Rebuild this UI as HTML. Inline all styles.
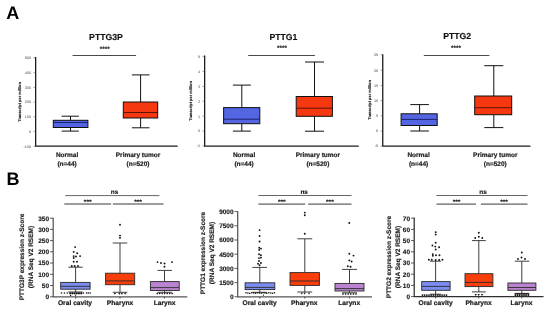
<!DOCTYPE html>
<html><head><meta charset="utf-8"><title>PTTG expression</title>
<style>
html,body{margin:0;padding:0;background:#fff;}
body{width:550px;height:313px;overflow:hidden;}
svg{display:block;font-family:"Liberation Sans",Arial,sans-serif;}
</style></head><body>
<svg width="550" height="313" viewBox="0 0 550 313" text-rendering="geometricPrecision">
<rect width="550" height="313" fill="#fff"/>
<text x="6.20" y="19.40" font-size="18" font-weight="bold" text-anchor="start" fill="#000" >A</text>
<text x="6.60" y="184.60" font-size="18" font-weight="bold" text-anchor="start" fill="#000" >B</text>
<text x="106.00" y="40.00" font-size="8.7" font-weight="bold" text-anchor="middle" fill="#111" stroke="#111" stroke-width="0.15" >PTTG3P</text>
<text x="104.70" y="50.60" font-size="6.4" font-weight="bold" text-anchor="middle" fill="#1a1a1a" stroke="#1a1a1a" stroke-width="0.1" >****</text>
<line x1="72.60" y1="55.50" x2="136.10" y2="55.50" stroke="#4a4a4a" stroke-width="1.0"/>
<path d="M35.65 57V146.15H177.7" fill="none" stroke="#1c1c1c" stroke-width="1.3"/>
<line x1="33.50" y1="57.90" x2="35.50" y2="57.90" stroke="#444" stroke-width="0.5"/>
<text x="31.10" y="59.25" font-size="3.75" font-weight="normal" text-anchor="end" fill="#4a4a4a" >500</text>
<line x1="33.50" y1="72.70" x2="35.50" y2="72.70" stroke="#444" stroke-width="0.5"/>
<text x="31.10" y="74.05" font-size="3.75" font-weight="normal" text-anchor="end" fill="#4a4a4a" >400</text>
<line x1="33.50" y1="87.40" x2="35.50" y2="87.40" stroke="#444" stroke-width="0.5"/>
<text x="31.10" y="88.75" font-size="3.75" font-weight="normal" text-anchor="end" fill="#4a4a4a" >300</text>
<line x1="33.50" y1="102.10" x2="35.50" y2="102.10" stroke="#444" stroke-width="0.5"/>
<text x="31.10" y="103.45" font-size="3.75" font-weight="normal" text-anchor="end" fill="#4a4a4a" >200</text>
<line x1="33.50" y1="116.80" x2="35.50" y2="116.80" stroke="#444" stroke-width="0.5"/>
<text x="31.10" y="118.15" font-size="3.75" font-weight="normal" text-anchor="end" fill="#4a4a4a" >100</text>
<line x1="33.50" y1="131.50" x2="35.50" y2="131.50" stroke="#444" stroke-width="0.5"/>
<text x="31.10" y="132.85" font-size="3.75" font-weight="normal" text-anchor="end" fill="#4a4a4a" >0</text>
<line x1="33.50" y1="146.30" x2="35.50" y2="146.30" stroke="#444" stroke-width="0.5"/>
<text x="31.10" y="147.65" font-size="3.75" font-weight="normal" text-anchor="end" fill="#4a4a4a" >-100</text>
<text transform="translate(20.70,102.00) rotate(-90)" font-size="3.9" font-weight="bold" text-anchor="middle" fill="#222" stroke="#222" stroke-width="0.15">Transcript per million</text>
<line x1="70.50" y1="116.20" x2="70.50" y2="120.30" stroke="#111" stroke-width="1"/>
<line x1="70.50" y1="127.50" x2="70.50" y2="131.10" stroke="#111" stroke-width="1"/>
<line x1="61.60" y1="116.20" x2="78.80" y2="116.20" stroke="#111" stroke-width="1"/>
<line x1="61.60" y1="131.10" x2="78.80" y2="131.10" stroke="#111" stroke-width="1"/>
<rect x="53.30" y="120.30" width="34.60" height="7.20" fill="#5465e2" stroke="#111" stroke-width="1"/>
<line x1="53.30" y1="122.50" x2="87.90" y2="122.50" stroke="#1a2370" stroke-width="1"/>
<line x1="140.60" y1="74.90" x2="140.60" y2="102.00" stroke="#111" stroke-width="1"/>
<line x1="140.60" y1="118.00" x2="140.60" y2="127.80" stroke="#111" stroke-width="1"/>
<line x1="131.90" y1="74.90" x2="149.50" y2="74.90" stroke="#111" stroke-width="1"/>
<line x1="131.90" y1="127.80" x2="149.50" y2="127.80" stroke="#111" stroke-width="1"/>
<rect x="123.30" y="102.00" width="34.40" height="16.00" fill="#f5380f" stroke="#111" stroke-width="1"/>
<line x1="123.30" y1="112.50" x2="157.70" y2="112.50" stroke="#5a1405" stroke-width="1"/>
<text x="67.10" y="157.30" font-size="6.5" font-weight="bold" text-anchor="middle" fill="#222" stroke="#222" stroke-width="0.2" >Normal</text>
<text x="67.10" y="165.90" font-size="6.5" font-weight="bold" text-anchor="middle" fill="#222" stroke="#222" stroke-width="0.2" >(n=44)</text>
<text x="138.00" y="157.30" font-size="6.5" font-weight="bold" text-anchor="middle" fill="#222" stroke="#222" stroke-width="0.2" >Primary tumor</text>
<text x="138.00" y="165.90" font-size="6.5" font-weight="bold" text-anchor="middle" fill="#222" stroke="#222" stroke-width="0.2" >(n=520)</text>
<text x="283.40" y="39.70" font-size="8.7" font-weight="bold" text-anchor="middle" fill="#111" stroke="#111" stroke-width="0.15" >PTTG1</text>
<text x="282.00" y="50.30" font-size="6.4" font-weight="bold" text-anchor="middle" fill="#1a1a1a" stroke="#1a1a1a" stroke-width="0.1" >****</text>
<line x1="248.20" y1="55.50" x2="314.90" y2="55.50" stroke="#4a4a4a" stroke-width="1.0"/>
<path d="M204.65 55.6V146.15H358.7" fill="none" stroke="#1c1c1c" stroke-width="1.3"/>
<line x1="202.50" y1="56.40" x2="204.50" y2="56.40" stroke="#444" stroke-width="0.5"/>
<text x="200.10" y="57.75" font-size="3.75" font-weight="normal" text-anchor="end" fill="#4a4a4a" >5</text>
<line x1="202.50" y1="71.40" x2="204.50" y2="71.40" stroke="#444" stroke-width="0.5"/>
<text x="200.10" y="72.75" font-size="3.75" font-weight="normal" text-anchor="end" fill="#4a4a4a" >4</text>
<line x1="202.50" y1="86.40" x2="204.50" y2="86.40" stroke="#444" stroke-width="0.5"/>
<text x="200.10" y="87.75" font-size="3.75" font-weight="normal" text-anchor="end" fill="#4a4a4a" >3</text>
<line x1="202.50" y1="101.30" x2="204.50" y2="101.30" stroke="#444" stroke-width="0.5"/>
<text x="200.10" y="102.65" font-size="3.75" font-weight="normal" text-anchor="end" fill="#4a4a4a" >2</text>
<line x1="202.50" y1="116.20" x2="204.50" y2="116.20" stroke="#444" stroke-width="0.5"/>
<text x="200.10" y="117.55" font-size="3.75" font-weight="normal" text-anchor="end" fill="#4a4a4a" >1</text>
<line x1="202.50" y1="131.10" x2="204.50" y2="131.10" stroke="#444" stroke-width="0.5"/>
<text x="200.10" y="132.45" font-size="3.75" font-weight="normal" text-anchor="end" fill="#4a4a4a" >0</text>
<line x1="202.50" y1="146.00" x2="204.50" y2="146.00" stroke="#444" stroke-width="0.5"/>
<text x="200.10" y="147.35" font-size="3.75" font-weight="normal" text-anchor="end" fill="#4a4a4a" >-1</text>
<text transform="translate(191.80,101.00) rotate(-90)" font-size="3.9" font-weight="bold" text-anchor="middle" fill="#222" stroke="#222" stroke-width="0.15">Transcript per million</text>
<line x1="241.80" y1="85.10" x2="241.80" y2="107.60" stroke="#111" stroke-width="1"/>
<line x1="241.80" y1="123.70" x2="241.80" y2="131.10" stroke="#111" stroke-width="1"/>
<line x1="232.90" y1="85.10" x2="250.80" y2="85.10" stroke="#111" stroke-width="1"/>
<line x1="232.90" y1="131.10" x2="250.80" y2="131.10" stroke="#111" stroke-width="1"/>
<rect x="223.60" y="107.60" width="36.20" height="16.10" fill="#5465e2" stroke="#111" stroke-width="1"/>
<line x1="223.60" y1="119.20" x2="259.80" y2="119.20" stroke="#1a2370" stroke-width="1"/>
<line x1="314.50" y1="62.00" x2="314.50" y2="96.50" stroke="#111" stroke-width="1"/>
<line x1="314.50" y1="116.30" x2="314.50" y2="131.20" stroke="#111" stroke-width="1"/>
<line x1="305.00" y1="62.00" x2="324.00" y2="62.00" stroke="#111" stroke-width="1"/>
<line x1="305.00" y1="131.20" x2="324.00" y2="131.20" stroke="#111" stroke-width="1"/>
<rect x="296.20" y="96.50" width="36.20" height="19.80" fill="#f5380f" stroke="#111" stroke-width="1"/>
<line x1="296.20" y1="108.20" x2="332.40" y2="108.20" stroke="#5a1405" stroke-width="1"/>
<text x="244.10" y="157.30" font-size="6.5" font-weight="bold" text-anchor="middle" fill="#222" stroke="#222" stroke-width="0.2" >Normal</text>
<text x="244.10" y="165.90" font-size="6.5" font-weight="bold" text-anchor="middle" fill="#222" stroke="#222" stroke-width="0.2" >(n=44)</text>
<text x="317.90" y="157.30" font-size="6.5" font-weight="bold" text-anchor="middle" fill="#222" stroke="#222" stroke-width="0.2" >Primary tumor</text>
<text x="317.90" y="165.90" font-size="6.5" font-weight="bold" text-anchor="middle" fill="#222" stroke="#222" stroke-width="0.2" >(n=520)</text>
<text x="457.20" y="38.70" font-size="8.7" font-weight="bold" text-anchor="middle" fill="#111" stroke="#111" stroke-width="0.15" >PTTG2</text>
<text x="456.00" y="50.00" font-size="6.4" font-weight="bold" text-anchor="middle" fill="#1a1a1a" stroke="#1a1a1a" stroke-width="0.1" >****</text>
<line x1="423.80" y1="55.50" x2="489.40" y2="55.50" stroke="#4a4a4a" stroke-width="1.0"/>
<path d="M382.75 54.2V146.15H530.5" fill="none" stroke="#1c1c1c" stroke-width="1.3"/>
<line x1="380.60" y1="54.80" x2="382.60" y2="54.80" stroke="#444" stroke-width="0.5"/>
<text x="378.20" y="56.15" font-size="3.75" font-weight="normal" text-anchor="end" fill="#4a4a4a" >25</text>
<line x1="380.60" y1="70.30" x2="382.60" y2="70.30" stroke="#444" stroke-width="0.5"/>
<text x="378.20" y="71.65" font-size="3.75" font-weight="normal" text-anchor="end" fill="#4a4a4a" >20</text>
<line x1="380.60" y1="85.50" x2="382.60" y2="85.50" stroke="#444" stroke-width="0.5"/>
<text x="378.20" y="86.85" font-size="3.75" font-weight="normal" text-anchor="end" fill="#4a4a4a" >15</text>
<line x1="380.60" y1="100.60" x2="382.60" y2="100.60" stroke="#444" stroke-width="0.5"/>
<text x="378.20" y="101.95" font-size="3.75" font-weight="normal" text-anchor="end" fill="#4a4a4a" >10</text>
<line x1="380.60" y1="115.80" x2="382.60" y2="115.80" stroke="#444" stroke-width="0.5"/>
<text x="378.20" y="117.15" font-size="3.75" font-weight="normal" text-anchor="end" fill="#4a4a4a" >5</text>
<line x1="380.60" y1="131.00" x2="382.60" y2="131.00" stroke="#444" stroke-width="0.5"/>
<text x="378.20" y="132.35" font-size="3.75" font-weight="normal" text-anchor="end" fill="#4a4a4a" >0</text>
<line x1="380.60" y1="146.00" x2="382.60" y2="146.00" stroke="#444" stroke-width="0.5"/>
<text x="378.20" y="147.35" font-size="3.75" font-weight="normal" text-anchor="end" fill="#4a4a4a" >-5</text>
<text transform="translate(370.80,100.00) rotate(-90)" font-size="3.9" font-weight="bold" text-anchor="middle" fill="#222" stroke="#222" stroke-width="0.15">Transcript per million</text>
<line x1="419.60" y1="104.60" x2="419.60" y2="113.80" stroke="#111" stroke-width="1"/>
<line x1="419.60" y1="125.50" x2="419.60" y2="131.00" stroke="#111" stroke-width="1"/>
<line x1="410.30" y1="104.60" x2="428.90" y2="104.60" stroke="#111" stroke-width="1"/>
<line x1="410.30" y1="131.00" x2="428.90" y2="131.00" stroke="#111" stroke-width="1"/>
<rect x="401.10" y="113.80" width="36.10" height="11.70" fill="#5465e2" stroke="#111" stroke-width="1"/>
<line x1="401.10" y1="119.40" x2="437.20" y2="119.40" stroke="#1a2370" stroke-width="1"/>
<line x1="493.80" y1="65.70" x2="493.80" y2="96.00" stroke="#111" stroke-width="1"/>
<line x1="493.80" y1="114.70" x2="493.80" y2="127.60" stroke="#111" stroke-width="1"/>
<line x1="484.30" y1="65.70" x2="503.30" y2="65.70" stroke="#111" stroke-width="1"/>
<line x1="484.30" y1="127.60" x2="503.30" y2="127.60" stroke="#111" stroke-width="1"/>
<rect x="474.70" y="96.00" width="37.00" height="18.70" fill="#f5380f" stroke="#111" stroke-width="1"/>
<line x1="474.70" y1="107.70" x2="511.70" y2="107.70" stroke="#5a1405" stroke-width="1"/>
<text x="418.60" y="157.30" font-size="6.5" font-weight="bold" text-anchor="middle" fill="#222" stroke="#222" stroke-width="0.2" >Normal</text>
<text x="418.60" y="165.90" font-size="6.5" font-weight="bold" text-anchor="middle" fill="#222" stroke="#222" stroke-width="0.2" >(n=44)</text>
<text x="495.30" y="157.30" font-size="6.5" font-weight="bold" text-anchor="middle" fill="#222" stroke="#222" stroke-width="0.2" >Primary tumor</text>
<text x="495.30" y="165.90" font-size="6.5" font-weight="bold" text-anchor="middle" fill="#222" stroke="#222" stroke-width="0.2" >(n=520)</text>
<line x1="65.30" y1="195.60" x2="159.40" y2="195.60" stroke="#333" stroke-width="0.75"/>
<text x="114.50" y="193.90" font-size="6.5" font-weight="bold" text-anchor="middle" fill="#111" stroke="#111" stroke-width="0.1" >ns</text>
<line x1="64.30" y1="204.00" x2="111.10" y2="204.00" stroke="#3a3a3a" stroke-width="1.0"/>
<line x1="112.90" y1="204.00" x2="163.60" y2="204.00" stroke="#3a3a3a" stroke-width="1.0"/>
<text x="87.70" y="204.40" font-size="6.6" font-weight="bold" text-anchor="middle" fill="#1a1a1a" stroke="#1a1a1a" stroke-width="0.1" >***</text>
<text x="138.10" y="204.40" font-size="6.6" font-weight="bold" text-anchor="middle" fill="#1a1a1a" stroke="#1a1a1a" stroke-width="0.1" >***</text>
<path d="M53.2 217.8V296.8H187.3" fill="none" stroke="#555" stroke-width="1.25"/>
<line x1="50.00" y1="218.20" x2="53.00" y2="218.20" stroke="#333" stroke-width="0.8"/>
<text x="49.10" y="220.50" font-size="6.5" font-weight="bold" text-anchor="end" fill="#1a1a1a" stroke="#1a1a1a" stroke-width="0.15" >350</text>
<line x1="50.00" y1="229.40" x2="53.00" y2="229.40" stroke="#333" stroke-width="0.8"/>
<text x="49.10" y="231.70" font-size="6.5" font-weight="bold" text-anchor="end" fill="#1a1a1a" stroke="#1a1a1a" stroke-width="0.15" >300</text>
<line x1="50.00" y1="240.60" x2="53.00" y2="240.60" stroke="#333" stroke-width="0.8"/>
<text x="49.10" y="242.90" font-size="6.5" font-weight="bold" text-anchor="end" fill="#1a1a1a" stroke="#1a1a1a" stroke-width="0.15" >250</text>
<line x1="50.00" y1="251.80" x2="53.00" y2="251.80" stroke="#333" stroke-width="0.8"/>
<text x="49.10" y="254.10" font-size="6.5" font-weight="bold" text-anchor="end" fill="#1a1a1a" stroke="#1a1a1a" stroke-width="0.15" >200</text>
<line x1="50.00" y1="263.00" x2="53.00" y2="263.00" stroke="#333" stroke-width="0.8"/>
<text x="49.10" y="265.30" font-size="6.5" font-weight="bold" text-anchor="end" fill="#1a1a1a" stroke="#1a1a1a" stroke-width="0.15" >150</text>
<line x1="50.00" y1="274.30" x2="53.00" y2="274.30" stroke="#333" stroke-width="0.8"/>
<text x="49.10" y="276.60" font-size="6.5" font-weight="bold" text-anchor="end" fill="#1a1a1a" stroke="#1a1a1a" stroke-width="0.15" >100</text>
<line x1="50.00" y1="285.50" x2="53.00" y2="285.50" stroke="#333" stroke-width="0.8"/>
<text x="49.10" y="287.80" font-size="6.5" font-weight="bold" text-anchor="end" fill="#1a1a1a" stroke="#1a1a1a" stroke-width="0.15" >50</text>
<line x1="50.00" y1="296.80" x2="53.00" y2="296.80" stroke="#333" stroke-width="0.8"/>
<text x="49.10" y="299.10" font-size="6.5" font-weight="bold" text-anchor="end" fill="#1a1a1a" stroke="#1a1a1a" stroke-width="0.15" >0</text>
<line x1="75.60" y1="296.80" x2="75.60" y2="298.60" stroke="#333" stroke-width="0.8"/>
<line x1="120.00" y1="296.80" x2="120.00" y2="298.60" stroke="#333" stroke-width="0.8"/>
<line x1="164.50" y1="296.80" x2="164.50" y2="298.60" stroke="#333" stroke-width="0.8"/>
<text transform="translate(24.30,257.00) rotate(-90)" font-size="6.5" font-weight="bold" text-anchor="middle" fill="#1a1a1a" stroke="#1a1a1a" stroke-width="0.15">PTTG3P expression z-Score</text>
<text transform="translate(33.40,257.00) rotate(-90)" font-size="6.5" font-weight="bold" text-anchor="middle" fill="#1a1a1a" stroke="#1a1a1a" stroke-width="0.15">(RNA Seq V2 RSEM)</text>
<text x="75.00" y="305.40" font-size="6.7" font-weight="bold" text-anchor="middle" fill="#1a1a1a" stroke="#1a1a1a" stroke-width="0.2" >Oral cavity</text>
<text x="120.00" y="305.40" font-size="6.7" font-weight="bold" text-anchor="middle" fill="#1a1a1a" stroke="#1a1a1a" stroke-width="0.2" >Pharynx</text>
<text x="164.60" y="305.40" font-size="6.7" font-weight="bold" text-anchor="middle" fill="#1a1a1a" stroke="#1a1a1a" stroke-width="0.2" >Larynx</text>
<line x1="75.60" y1="267.20" x2="75.60" y2="282.40" stroke="#2a2a2a" stroke-width="0.9"/>
<line x1="75.60" y1="289.20" x2="75.60" y2="292.00" stroke="#2a2a2a" stroke-width="0.9"/>
<line x1="68.40" y1="267.20" x2="82.70" y2="267.20" stroke="#2a2a2a" stroke-width="0.9"/>
<line x1="68.40" y1="292.00" x2="82.70" y2="292.00" stroke="#2a2a2a" stroke-width="0.9"/>
<rect x="60.70" y="282.40" width="29.40" height="6.80" fill="#7b8df0" stroke="#2a2a2a" stroke-width="0.9"/>
<line x1="60.70" y1="286.30" x2="90.10" y2="286.30" stroke="#2a2a2a" stroke-width="0.9"/>
<line x1="120.00" y1="243.00" x2="120.00" y2="273.20" stroke="#2a2a2a" stroke-width="0.9"/>
<line x1="120.00" y1="284.70" x2="120.00" y2="292.30" stroke="#2a2a2a" stroke-width="0.9"/>
<line x1="112.70" y1="243.00" x2="127.30" y2="243.00" stroke="#2a2a2a" stroke-width="0.9"/>
<line x1="112.70" y1="292.30" x2="127.30" y2="292.30" stroke="#2a2a2a" stroke-width="0.9"/>
<rect x="105.60" y="273.20" width="29.10" height="11.50" fill="#f83e0a" stroke="#2a2a2a" stroke-width="0.9"/>
<line x1="105.60" y1="280.90" x2="134.70" y2="280.90" stroke="#2a2a2a" stroke-width="0.9"/>
<line x1="164.50" y1="270.40" x2="164.50" y2="281.60" stroke="#2a2a2a" stroke-width="0.9"/>
<line x1="164.50" y1="290.50" x2="164.50" y2="292.30" stroke="#2a2a2a" stroke-width="0.9"/>
<line x1="157.50" y1="270.40" x2="171.90" y2="270.40" stroke="#2a2a2a" stroke-width="0.9"/>
<line x1="157.50" y1="292.30" x2="171.90" y2="292.30" stroke="#2a2a2a" stroke-width="0.9"/>
<rect x="150.40" y="281.60" width="28.80" height="8.90" fill="#ba83cf" stroke="#2a2a2a" stroke-width="0.9"/>
<line x1="150.40" y1="287.60" x2="179.20" y2="287.60" stroke="#2a2a2a" stroke-width="0.9"/>
<line x1="258.40" y1="195.50" x2="351.50" y2="195.50" stroke="#333" stroke-width="0.75"/>
<text x="304.20" y="193.80" font-size="6.5" font-weight="bold" text-anchor="middle" fill="#111" stroke="#111" stroke-width="0.1" >ns</text>
<line x1="258.40" y1="204.10" x2="305.20" y2="204.10" stroke="#3a3a3a" stroke-width="1.0"/>
<line x1="308.20" y1="204.10" x2="351.50" y2="204.10" stroke="#3a3a3a" stroke-width="1.0"/>
<text x="281.80" y="204.40" font-size="6.6" font-weight="bold" text-anchor="middle" fill="#1a1a1a" stroke="#1a1a1a" stroke-width="0.1" >***</text>
<text x="329.90" y="204.40" font-size="6.6" font-weight="bold" text-anchor="middle" fill="#1a1a1a" stroke="#1a1a1a" stroke-width="0.1" >***</text>
<path d="M237.7 211.2V296.8H372" fill="none" stroke="#555" stroke-width="1.25"/>
<line x1="234.50" y1="211.60" x2="237.50" y2="211.60" stroke="#333" stroke-width="0.8"/>
<text x="233.60" y="213.90" font-size="6.5" font-weight="bold" text-anchor="end" fill="#1a1a1a" stroke="#1a1a1a" stroke-width="0.15" >9000</text>
<line x1="234.50" y1="225.80" x2="237.50" y2="225.80" stroke="#333" stroke-width="0.8"/>
<text x="233.60" y="228.10" font-size="6.5" font-weight="bold" text-anchor="end" fill="#1a1a1a" stroke="#1a1a1a" stroke-width="0.15" >7500</text>
<line x1="234.50" y1="240.00" x2="237.50" y2="240.00" stroke="#333" stroke-width="0.8"/>
<text x="233.60" y="242.30" font-size="6.5" font-weight="bold" text-anchor="end" fill="#1a1a1a" stroke="#1a1a1a" stroke-width="0.15" >6000</text>
<line x1="234.50" y1="254.20" x2="237.50" y2="254.20" stroke="#333" stroke-width="0.8"/>
<text x="233.60" y="256.50" font-size="6.5" font-weight="bold" text-anchor="end" fill="#1a1a1a" stroke="#1a1a1a" stroke-width="0.15" >4500</text>
<line x1="234.50" y1="268.40" x2="237.50" y2="268.40" stroke="#333" stroke-width="0.8"/>
<text x="233.60" y="270.70" font-size="6.5" font-weight="bold" text-anchor="end" fill="#1a1a1a" stroke="#1a1a1a" stroke-width="0.15" >3000</text>
<line x1="234.50" y1="282.60" x2="237.50" y2="282.60" stroke="#333" stroke-width="0.8"/>
<text x="233.60" y="284.90" font-size="6.5" font-weight="bold" text-anchor="end" fill="#1a1a1a" stroke="#1a1a1a" stroke-width="0.15" >1500</text>
<line x1="234.50" y1="296.80" x2="237.50" y2="296.80" stroke="#333" stroke-width="0.8"/>
<text x="233.60" y="299.10" font-size="6.5" font-weight="bold" text-anchor="end" fill="#1a1a1a" stroke="#1a1a1a" stroke-width="0.15" >0</text>
<line x1="259.80" y1="296.80" x2="259.80" y2="298.60" stroke="#333" stroke-width="0.8"/>
<line x1="304.80" y1="296.80" x2="304.80" y2="298.60" stroke="#333" stroke-width="0.8"/>
<line x1="349.50" y1="296.80" x2="349.50" y2="298.60" stroke="#333" stroke-width="0.8"/>
<text transform="translate(204.80,253.00) rotate(-90)" font-size="6.5" font-weight="bold" text-anchor="middle" fill="#1a1a1a" stroke="#1a1a1a" stroke-width="0.15">PTTG1 expression z-Score</text>
<text transform="translate(214.00,253.00) rotate(-90)" font-size="6.5" font-weight="bold" text-anchor="middle" fill="#1a1a1a" stroke="#1a1a1a" stroke-width="0.15">(RNA Seq V2 RSEM)</text>
<text x="259.60" y="305.40" font-size="6.7" font-weight="bold" text-anchor="middle" fill="#1a1a1a" stroke="#1a1a1a" stroke-width="0.2" >Oral cavity</text>
<text x="304.30" y="305.40" font-size="6.7" font-weight="bold" text-anchor="middle" fill="#1a1a1a" stroke="#1a1a1a" stroke-width="0.2" >Pharynx</text>
<text x="349.20" y="305.40" font-size="6.7" font-weight="bold" text-anchor="middle" fill="#1a1a1a" stroke="#1a1a1a" stroke-width="0.2" >Larynx</text>
<line x1="259.80" y1="267.40" x2="259.80" y2="282.80" stroke="#2a2a2a" stroke-width="0.9"/>
<line x1="259.80" y1="289.60" x2="259.80" y2="292.30" stroke="#2a2a2a" stroke-width="0.9"/>
<line x1="252.30" y1="267.40" x2="267.00" y2="267.40" stroke="#2a2a2a" stroke-width="0.9"/>
<line x1="252.30" y1="292.30" x2="267.00" y2="292.30" stroke="#2a2a2a" stroke-width="0.9"/>
<rect x="245.10" y="282.80" width="29.70" height="6.80" fill="#7b8df0" stroke="#2a2a2a" stroke-width="0.9"/>
<line x1="245.10" y1="287.40" x2="274.80" y2="287.40" stroke="#2a2a2a" stroke-width="0.9"/>
<line x1="304.80" y1="238.80" x2="304.80" y2="272.60" stroke="#2a2a2a" stroke-width="0.9"/>
<line x1="304.80" y1="285.40" x2="304.80" y2="292.00" stroke="#2a2a2a" stroke-width="0.9"/>
<line x1="297.40" y1="238.80" x2="312.20" y2="238.80" stroke="#2a2a2a" stroke-width="0.9"/>
<line x1="297.40" y1="292.00" x2="312.20" y2="292.00" stroke="#2a2a2a" stroke-width="0.9"/>
<rect x="290.00" y="272.60" width="29.40" height="12.80" fill="#f83e0a" stroke="#2a2a2a" stroke-width="0.9"/>
<line x1="290.00" y1="281.00" x2="319.40" y2="281.00" stroke="#2a2a2a" stroke-width="0.9"/>
<line x1="349.50" y1="269.40" x2="349.50" y2="283.40" stroke="#2a2a2a" stroke-width="0.9"/>
<line x1="349.50" y1="291.00" x2="349.50" y2="292.80" stroke="#2a2a2a" stroke-width="0.9"/>
<line x1="342.00" y1="269.40" x2="357.00" y2="269.40" stroke="#2a2a2a" stroke-width="0.9"/>
<line x1="342.00" y1="292.80" x2="357.00" y2="292.80" stroke="#2a2a2a" stroke-width="0.9"/>
<rect x="335.00" y="283.40" width="29.00" height="7.60" fill="#ba83cf" stroke="#2a2a2a" stroke-width="0.9"/>
<line x1="335.00" y1="288.60" x2="364.00" y2="288.60" stroke="#2a2a2a" stroke-width="0.9"/>
<line x1="436.40" y1="195.50" x2="527.50" y2="195.50" stroke="#333" stroke-width="0.75"/>
<text x="483.00" y="193.80" font-size="6.5" font-weight="bold" text-anchor="middle" fill="#111" stroke="#111" stroke-width="0.1" >ns</text>
<line x1="436.40" y1="204.10" x2="476.00" y2="204.10" stroke="#3a3a3a" stroke-width="1.0"/>
<line x1="480.90" y1="204.10" x2="527.50" y2="204.10" stroke="#3a3a3a" stroke-width="1.0"/>
<text x="456.50" y="204.40" font-size="6.6" font-weight="bold" text-anchor="middle" fill="#1a1a1a" stroke="#1a1a1a" stroke-width="0.1" >***</text>
<text x="504.00" y="204.40" font-size="6.6" font-weight="bold" text-anchor="middle" fill="#1a1a1a" stroke="#1a1a1a" stroke-width="0.1" >***</text>
<path d="M414.2 217.6V296.6H543.5" fill="none" stroke="#2e2e2e" stroke-width="1.25"/>
<line x1="411.00" y1="218.20" x2="414.00" y2="218.20" stroke="#333" stroke-width="0.8"/>
<text x="410.10" y="220.50" font-size="6.5" font-weight="bold" text-anchor="end" fill="#1a1a1a" stroke="#1a1a1a" stroke-width="0.15" >70</text>
<line x1="411.00" y1="229.40" x2="414.00" y2="229.40" stroke="#333" stroke-width="0.8"/>
<text x="410.10" y="231.70" font-size="6.5" font-weight="bold" text-anchor="end" fill="#1a1a1a" stroke="#1a1a1a" stroke-width="0.15" >60</text>
<line x1="411.00" y1="240.60" x2="414.00" y2="240.60" stroke="#333" stroke-width="0.8"/>
<text x="410.10" y="242.90" font-size="6.5" font-weight="bold" text-anchor="end" fill="#1a1a1a" stroke="#1a1a1a" stroke-width="0.15" >50</text>
<line x1="411.00" y1="251.80" x2="414.00" y2="251.80" stroke="#333" stroke-width="0.8"/>
<text x="410.10" y="254.10" font-size="6.5" font-weight="bold" text-anchor="end" fill="#1a1a1a" stroke="#1a1a1a" stroke-width="0.15" >40</text>
<line x1="411.00" y1="263.00" x2="414.00" y2="263.00" stroke="#333" stroke-width="0.8"/>
<text x="410.10" y="265.30" font-size="6.5" font-weight="bold" text-anchor="end" fill="#1a1a1a" stroke="#1a1a1a" stroke-width="0.15" >30</text>
<line x1="411.00" y1="274.20" x2="414.00" y2="274.20" stroke="#333" stroke-width="0.8"/>
<text x="410.10" y="276.50" font-size="6.5" font-weight="bold" text-anchor="end" fill="#1a1a1a" stroke="#1a1a1a" stroke-width="0.15" >20</text>
<line x1="411.00" y1="285.40" x2="414.00" y2="285.40" stroke="#333" stroke-width="0.8"/>
<text x="410.10" y="287.70" font-size="6.5" font-weight="bold" text-anchor="end" fill="#1a1a1a" stroke="#1a1a1a" stroke-width="0.15" >10</text>
<line x1="411.00" y1="296.60" x2="414.00" y2="296.60" stroke="#333" stroke-width="0.8"/>
<text x="410.10" y="298.90" font-size="6.5" font-weight="bold" text-anchor="end" fill="#1a1a1a" stroke="#1a1a1a" stroke-width="0.15" >0</text>
<line x1="435.60" y1="296.60" x2="435.60" y2="298.40" stroke="#333" stroke-width="0.8"/>
<line x1="478.80" y1="296.60" x2="478.80" y2="298.40" stroke="#333" stroke-width="0.8"/>
<line x1="521.80" y1="296.60" x2="521.80" y2="298.40" stroke="#333" stroke-width="0.8"/>
<text transform="translate(390.60,257.00) rotate(-90)" font-size="6.5" font-weight="bold" text-anchor="middle" fill="#1a1a1a" stroke="#1a1a1a" stroke-width="0.15">PTTG2 expression z-Score</text>
<text transform="translate(399.60,257.00) rotate(-90)" font-size="6.5" font-weight="bold" text-anchor="middle" fill="#1a1a1a" stroke="#1a1a1a" stroke-width="0.15">(RNA Seq V2 RSEM)</text>
<text x="435.60" y="305.40" font-size="6.7" font-weight="bold" text-anchor="middle" fill="#1a1a1a" stroke="#1a1a1a" stroke-width="0.2" >Oral cavity</text>
<text x="478.60" y="305.40" font-size="6.7" font-weight="bold" text-anchor="middle" fill="#1a1a1a" stroke="#1a1a1a" stroke-width="0.2" >Pharynx</text>
<text x="521.50" y="305.40" font-size="6.7" font-weight="bold" text-anchor="middle" fill="#1a1a1a" stroke="#1a1a1a" stroke-width="0.2" >Larynx</text>
<line x1="435.60" y1="261.20" x2="435.60" y2="281.60" stroke="#2a2a2a" stroke-width="0.9"/>
<line x1="435.60" y1="290.30" x2="435.60" y2="294.20" stroke="#2a2a2a" stroke-width="0.9"/>
<line x1="430.00" y1="261.20" x2="441.00" y2="261.20" stroke="#2a2a2a" stroke-width="0.9"/>
<line x1="430.00" y1="294.20" x2="441.00" y2="294.20" stroke="#2a2a2a" stroke-width="0.9"/>
<rect x="421.70" y="281.60" width="28.40" height="8.70" fill="#7b8df0" stroke="#2a2a2a" stroke-width="0.9"/>
<line x1="421.70" y1="286.40" x2="450.10" y2="286.40" stroke="#2a2a2a" stroke-width="0.9"/>
<line x1="478.80" y1="240.60" x2="478.80" y2="273.70" stroke="#2a2a2a" stroke-width="0.9"/>
<line x1="478.80" y1="286.60" x2="478.80" y2="291.90" stroke="#2a2a2a" stroke-width="0.9"/>
<line x1="472.00" y1="240.60" x2="485.80" y2="240.60" stroke="#2a2a2a" stroke-width="0.9"/>
<line x1="472.00" y1="291.90" x2="485.80" y2="291.90" stroke="#2a2a2a" stroke-width="0.9"/>
<rect x="465.00" y="273.70" width="27.90" height="12.90" fill="#f83e0a" stroke="#2a2a2a" stroke-width="0.9"/>
<line x1="465.00" y1="282.40" x2="492.90" y2="282.40" stroke="#2a2a2a" stroke-width="0.9"/>
<line x1="521.80" y1="261.20" x2="521.80" y2="283.00" stroke="#2a2a2a" stroke-width="0.9"/>
<line x1="521.80" y1="290.30" x2="521.80" y2="293.40" stroke="#2a2a2a" stroke-width="0.9"/>
<line x1="514.80" y1="261.20" x2="529.30" y2="261.20" stroke="#2a2a2a" stroke-width="0.9"/>
<line x1="514.80" y1="293.40" x2="529.30" y2="293.40" stroke="#2a2a2a" stroke-width="0.9"/>
<rect x="507.90" y="283.00" width="28.00" height="7.30" fill="#ba83cf" stroke="#2a2a2a" stroke-width="0.9"/>
<line x1="507.90" y1="287.50" x2="535.90" y2="287.50" stroke="#2a2a2a" stroke-width="0.9"/>
<circle cx="75.10" cy="247.10" r="0.95" fill="#111"/>
<circle cx="73.70" cy="251.90" r="0.95" fill="#111"/>
<circle cx="77.20" cy="253.20" r="0.95" fill="#111"/>
<circle cx="73.70" cy="256.10" r="0.95" fill="#111"/>
<circle cx="76.00" cy="256.50" r="0.95" fill="#111"/>
<circle cx="80.10" cy="256.10" r="0.95" fill="#111"/>
<circle cx="73.70" cy="258.00" r="0.95" fill="#111"/>
<circle cx="73.70" cy="261.80" r="0.95" fill="#111"/>
<circle cx="77.00" cy="261.80" r="0.95" fill="#111"/>
<circle cx="71.80" cy="266.00" r="0.95" fill="#111"/>
<circle cx="74.70" cy="266.00" r="0.95" fill="#111"/>
<circle cx="78.00" cy="266.00" r="0.95" fill="#111"/>
<circle cx="61.50" cy="293.00" r="0.8" fill="#111"/>
<circle cx="64.40" cy="293.00" r="0.8" fill="#111"/>
<circle cx="67.30" cy="293.00" r="0.8" fill="#111"/>
<circle cx="83.40" cy="293.00" r="0.8" fill="#111"/>
<circle cx="86.60" cy="293.00" r="0.8" fill="#111"/>
<circle cx="88.30" cy="293.00" r="0.8" fill="#111"/>
<circle cx="90.20" cy="293.00" r="0.8" fill="#111"/>
<circle cx="70.20" cy="293.30" r="1.1" fill="#111"/>
<circle cx="72.40" cy="293.30" r="1.1" fill="#111"/>
<circle cx="74.60" cy="293.30" r="1.1" fill="#111"/>
<circle cx="76.80" cy="293.30" r="1.1" fill="#111"/>
<circle cx="79.00" cy="293.30" r="1.1" fill="#111"/>
<circle cx="81.20" cy="293.30" r="1.1" fill="#111"/>
<circle cx="70.60" cy="295.40" r="0.7" fill="#111"/>
<circle cx="75.60" cy="295.20" r="0.6" fill="#111"/>
<circle cx="120.00" cy="224.70" r="0.95" fill="#111"/>
<circle cx="120.00" cy="235.60" r="0.95" fill="#111"/>
<circle cx="120.00" cy="237.90" r="0.95" fill="#111"/>
<path d="M113.80 292.92L116.00 292.92L114.90 294.79Z" fill="#111"/>
<path d="M118.30 292.92L120.50 292.92L119.40 294.79Z" fill="#111"/>
<path d="M120.80 292.92L123.00 292.92L121.90 294.79Z" fill="#111"/>
<path d="M124.00 292.92L126.20 292.92L125.10 294.79Z" fill="#111"/>
<circle cx="157.50" cy="262.10" r="0.95" fill="#111"/>
<circle cx="161.00" cy="263.00" r="0.95" fill="#111"/>
<circle cx="164.50" cy="263.50" r="0.95" fill="#111"/>
<circle cx="164.50" cy="266.70" r="0.95" fill="#111"/>
<circle cx="172.00" cy="262.10" r="0.95" fill="#111"/>
<path d="M156.20 293.40L157.20 292.40L158.20 293.40L157.20 294.40Z" fill="#111"/>
<path d="M158.70 293.40L159.70 292.40L160.70 293.40L159.70 294.40Z" fill="#111"/>
<path d="M161.20 293.40L162.20 292.40L163.20 293.40L162.20 294.40Z" fill="#111"/>
<path d="M163.70 293.40L164.70 292.40L165.70 293.40L164.70 294.40Z" fill="#111"/>
<path d="M166.20 293.40L167.20 292.40L168.20 293.40L167.20 294.40Z" fill="#111"/>
<path d="M168.70 293.40L169.70 292.40L170.70 293.40L169.70 294.40Z" fill="#111"/>
<path d="M171.20 293.40L172.20 292.40L173.20 293.40L172.20 294.40Z" fill="#111"/>
<circle cx="259.60" cy="230.10" r="0.95" fill="#111"/>
<circle cx="259.60" cy="236.00" r="0.95" fill="#111"/>
<circle cx="259.60" cy="241.50" r="0.95" fill="#111"/>
<circle cx="259.20" cy="247.70" r="0.95" fill="#111"/>
<circle cx="261.00" cy="248.60" r="0.95" fill="#111"/>
<circle cx="259.20" cy="249.90" r="0.95" fill="#111"/>
<circle cx="259.00" cy="254.30" r="0.95" fill="#111"/>
<circle cx="260.90" cy="255.20" r="0.95" fill="#111"/>
<circle cx="259.00" cy="258.10" r="0.95" fill="#111"/>
<circle cx="260.90" cy="257.60" r="0.95" fill="#111"/>
<circle cx="259.00" cy="261.00" r="0.95" fill="#111"/>
<circle cx="258.00" cy="263.80" r="0.95" fill="#111"/>
<circle cx="260.90" cy="263.00" r="0.95" fill="#111"/>
<circle cx="259.60" cy="265.20" r="0.95" fill="#111"/>
<circle cx="246.00" cy="292.75" r="0.8" fill="#111"/>
<circle cx="247.90" cy="293.00" r="0.8" fill="#111"/>
<circle cx="249.80" cy="293.25" r="0.8" fill="#111"/>
<circle cx="251.70" cy="292.75" r="0.8" fill="#111"/>
<circle cx="253.60" cy="293.00" r="0.8" fill="#111"/>
<circle cx="255.50" cy="293.25" r="0.8" fill="#111"/>
<circle cx="257.40" cy="292.75" r="0.8" fill="#111"/>
<circle cx="259.30" cy="293.00" r="0.8" fill="#111"/>
<circle cx="261.20" cy="293.25" r="0.8" fill="#111"/>
<circle cx="263.10" cy="292.75" r="0.8" fill="#111"/>
<circle cx="265.00" cy="293.00" r="0.8" fill="#111"/>
<circle cx="266.90" cy="293.25" r="0.8" fill="#111"/>
<circle cx="268.80" cy="292.75" r="0.8" fill="#111"/>
<circle cx="270.70" cy="293.00" r="0.8" fill="#111"/>
<circle cx="272.60" cy="293.25" r="0.8" fill="#111"/>
<circle cx="274.50" cy="292.75" r="0.8" fill="#111"/>
<circle cx="263.40" cy="295.20" r="0.6" fill="#111"/>
<circle cx="304.80" cy="212.60" r="0.95" fill="#111"/>
<circle cx="304.80" cy="215.20" r="0.95" fill="#111"/>
<circle cx="304.80" cy="233.70" r="0.95" fill="#111"/>
<path d="M300.70 292.72L302.90 292.72L301.80 294.59Z" fill="#111"/>
<path d="M303.50 292.72L305.70 292.72L304.60 294.59Z" fill="#111"/>
<path d="M307.90 292.72L310.10 292.72L309.00 294.59Z" fill="#111"/>
<circle cx="349.30" cy="223.00" r="0.95" fill="#111"/>
<circle cx="349.30" cy="253.70" r="0.95" fill="#111"/>
<circle cx="353.50" cy="255.60" r="0.95" fill="#111"/>
<circle cx="349.30" cy="260.40" r="0.95" fill="#111"/>
<circle cx="351.60" cy="261.50" r="0.95" fill="#111"/>
<circle cx="347.80" cy="266.30" r="0.95" fill="#111"/>
<circle cx="350.60" cy="266.70" r="0.95" fill="#111"/>
<path d="M342.00 293.90L343.00 292.90L344.00 293.90L343.00 294.90Z" fill="#111"/>
<path d="M344.60 293.90L345.60 292.90L346.60 293.90L345.60 294.90Z" fill="#111"/>
<path d="M347.20 293.90L348.20 292.90L349.20 293.90L348.20 294.90Z" fill="#111"/>
<path d="M349.80 293.90L350.80 292.90L351.80 293.90L350.80 294.90Z" fill="#111"/>
<path d="M352.40 293.90L353.40 292.90L354.40 293.90L353.40 294.90Z" fill="#111"/>
<path d="M355.00 293.90L356.00 292.90L357.00 293.90L356.00 294.90Z" fill="#111"/>
<circle cx="435.70" cy="232.30" r="0.95" fill="#111"/>
<circle cx="435.70" cy="234.60" r="0.95" fill="#111"/>
<circle cx="435.70" cy="242.80" r="0.95" fill="#111"/>
<circle cx="432.40" cy="245.50" r="0.95" fill="#111"/>
<circle cx="435.30" cy="246.60" r="0.95" fill="#111"/>
<circle cx="439.10" cy="247.20" r="0.95" fill="#111"/>
<circle cx="435.70" cy="249.50" r="0.95" fill="#111"/>
<circle cx="432.80" cy="254.10" r="0.95" fill="#111"/>
<circle cx="432.80" cy="255.70" r="0.95" fill="#111"/>
<circle cx="436.00" cy="255.30" r="0.95" fill="#111"/>
<circle cx="439.50" cy="255.30" r="0.95" fill="#111"/>
<circle cx="428.90" cy="259.70" r="0.95" fill="#111"/>
<circle cx="431.80" cy="259.80" r="0.95" fill="#111"/>
<circle cx="435.70" cy="260.00" r="0.95" fill="#111"/>
<circle cx="439.10" cy="260.00" r="0.95" fill="#111"/>
<circle cx="442.40" cy="259.80" r="0.95" fill="#111"/>
<circle cx="422.50" cy="295.10" r="0.9" fill="#111"/>
<circle cx="424.68" cy="295.10" r="0.9" fill="#111"/>
<circle cx="426.86" cy="295.10" r="0.9" fill="#111"/>
<circle cx="429.04" cy="295.10" r="0.9" fill="#111"/>
<circle cx="431.22" cy="295.10" r="0.9" fill="#111"/>
<circle cx="433.40" cy="295.10" r="0.9" fill="#111"/>
<circle cx="435.58" cy="295.10" r="0.9" fill="#111"/>
<circle cx="437.76" cy="295.10" r="0.9" fill="#111"/>
<circle cx="439.94" cy="295.10" r="0.9" fill="#111"/>
<circle cx="442.12" cy="295.10" r="0.9" fill="#111"/>
<circle cx="444.30" cy="295.10" r="0.9" fill="#111"/>
<circle cx="446.48" cy="295.10" r="0.9" fill="#111"/>
<circle cx="478.80" cy="232.70" r="0.95" fill="#111"/>
<circle cx="475.20" cy="238.00" r="0.95" fill="#111"/>
<circle cx="478.80" cy="236.70" r="0.95" fill="#111"/>
<circle cx="482.30" cy="238.00" r="0.95" fill="#111"/>
<path d="M474.60 294.12L476.80 294.12L475.70 295.99Z" fill="#111"/>
<path d="M477.60 294.12L479.80 294.12L478.70 295.99Z" fill="#111"/>
<path d="M480.90 294.12L483.10 294.12L482.00 295.99Z" fill="#111"/>
<circle cx="521.80" cy="252.50" r="0.95" fill="#111"/>
<circle cx="518.00" cy="259.00" r="0.95" fill="#111"/>
<circle cx="521.50" cy="257.50" r="0.95" fill="#111"/>
<circle cx="525.00" cy="259.00" r="0.95" fill="#111"/>
<line x1="514.80" y1="293.50" x2="528.80" y2="293.50" stroke="#222" stroke-width="0.9"/>
<path d="M514.15 295.00L515.40 293.75L516.65 295.00L515.40 296.25Z" fill="#111"/>
<path d="M516.30 295.00L517.55 293.75L518.80 295.00L517.55 296.25Z" fill="#111"/>
<path d="M518.45 295.00L519.70 293.75L520.95 295.00L519.70 296.25Z" fill="#111"/>
<path d="M520.60 295.00L521.85 293.75L523.10 295.00L521.85 296.25Z" fill="#111"/>
<path d="M522.75 295.00L524.00 293.75L525.25 295.00L524.00 296.25Z" fill="#111"/>
<path d="M524.90 295.00L526.15 293.75L527.40 295.00L526.15 296.25Z" fill="#111"/>
<path d="M527.05 295.00L528.30 293.75L529.55 295.00L528.30 296.25Z" fill="#111"/>
</svg>
</body></html>
